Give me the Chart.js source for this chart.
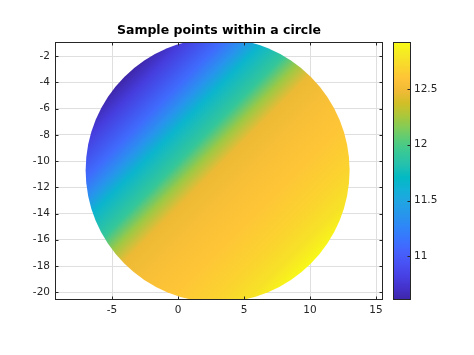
<!DOCTYPE html>
<html>
<head>
<meta charset="utf-8">
<script src="https://cdn.jsdelivr.net/npm/chart.js@4"></script>
<style>
  html, body { margin: 0; padding: 0; background: #fff; }
</style>
</head>
<body>
<canvas id="chart" width="474" height="355"></canvas>
<script>
// circle holding the sample points (data units)
const circleCenter = [3, -10.7];
const circleRadius = 10;

// value along the diameter from the top-left edge (0) to the bottom-right edge (1)
const profilePos = [0, 0.064, 0.166, 0.225, 0.279, 0.373, 0.432, 0.493, 0.627, 0.708, 0.842, 0.93, 1];
const profileValue = [10.61, 10.8, 11.1, 11.35, 11.65, 11.92, 12.22, 12.47, 12.56, 12.6, 12.68, 12.77, 12.9];

const xTicks = [-5, 0, 5, 10, 15];
const yTicks = [-20, -18, -16, -14, -12, -10, -8, -6, -4, -2];
const cbarTicks = [11, 11.5, 12, 12.5];
const cLimits = [10.61, 12.92];

// parula, every third entry of the 64-colour map
const colormap = ['#3e26a8', '#4432cb', '#4741e5', '#4852f4', '#4563fd', '#3875fe', '#2e87f7', '#2796eb',
  '#20a5e3', '#12b1d6', '#02bac3', '#24c1ae', '#37c897', '#57cc7a', '#81cc59', '#abc739',
  '#d1bf27', '#f0ba36', '#fec338', '#fad62d', '#f5e924', '#f9fb15'];

const font = { family: 'DejaVu Sans', size: 10.5 };
const axisColor = '#262626';
const gridColor = '#dfdfdf';

function hexRgb(h) {
  return [1, 3, 5].map(i => parseInt(h.substr(i, 2), 16));
}

function colorFor(v) {
  let f = (v - cLimits[0]) / (cLimits[1] - cLimits[0]);
  f = Math.min(1, Math.max(0, f)) * (colormap.length - 1);
  const i = Math.min(colormap.length - 2, Math.floor(f));
  const a = hexRgb(colormap[i]), b = hexRgb(colormap[i + 1]);
  const t = f - i;
  const c = a.map((x, k) => Math.round(x + (b[k] - x) * t));
  return 'rgb(' + c.join(',') + ')';
}

function fieldGradient(chart) {
  const xs = chart.scales.x, ys = chart.scales.y;
  const d = circleRadius / Math.SQRT2;
  const pts = [
    xs.getPixelForValue(circleCenter[0] - d), ys.getPixelForValue(circleCenter[1] + d),
    xs.getPixelForValue(circleCenter[0] + d), ys.getPixelForValue(circleCenter[1] - d)
  ];
  // scales are not laid out yet on the first pass
  if (!pts.every(Number.isFinite)) return 'transparent';
  const g = chart.ctx.createLinearGradient(pts[0], pts[1], pts[2], pts[3]);
  profilePos.forEach((p, i) => g.addColorStop(p, colorFor(profileValue[i])));
  return g;
}

function circleRadiusPx(chart) {
  const xs = chart.scales.x;
  const r = xs.getPixelForValue(circleCenter[0] + circleRadius) - xs.getPixelForValue(circleCenter[0]);
  return Number.isFinite(r) ? r : 0;
}

const setTicks = list => scale => { scale.ticks = list.map(v => ({ value: v })); };

const axesBox = {
  id: 'axesBox',
  afterDraw(chart) {
    const { ctx, chartArea: a, scales } = chart;
    const L = Math.round(a.left) + 0.5, R = Math.round(a.right) - 0.5;
    const T = Math.round(a.top) + 0.5, B = Math.round(a.bottom) - 0.5;
    ctx.save();
    ctx.strokeStyle = axisColor;
    ctx.lineWidth = 1;
    ctx.beginPath();
    xTicks.forEach(v => {
      const px = Math.round(scales.x.getPixelForValue(v)) + 0.5;
      ctx.moveTo(px, T); ctx.lineTo(px, T + 3);
      ctx.moveTo(px, B); ctx.lineTo(px, B - 3);
    });
    yTicks.forEach(v => {
      const py = Math.round(scales.y.getPixelForValue(v)) + 0.5;
      ctx.moveTo(L, py); ctx.lineTo(L + 3, py);
      ctx.moveTo(R, py); ctx.lineTo(R - 3, py);
    });
    ctx.stroke();
    ctx.strokeRect(L, T, R - L, B - T);

    // colorbar
    const cs = scales.c;
    const top = cs.getPixelForValue(cLimits[1]), bottom = cs.getPixelForValue(cLimits[0]);
    const cl = Math.round(a.right) + 10, cw = 18;
    const g = ctx.createLinearGradient(0, bottom, 0, top);
    colormap.forEach((c, i) => g.addColorStop(i / (colormap.length - 1), c));
    ctx.fillStyle = g;
    ctx.fillRect(cl, top, cw, bottom - top);
    ctx.strokeRect(cl + 0.5, Math.round(top) + 0.5, cw - 1, Math.round(bottom - top) - 1);
    ctx.beginPath();
    cbarTicks.forEach(v => {
      const py = Math.round(cs.getPixelForValue(v)) + 0.5;
      ctx.moveTo(cl + cw - 0.5, py); ctx.lineTo(cl + cw - 3.5, py);
    });
    ctx.stroke();
    ctx.restore();
  }
};

new Chart(document.getElementById('chart'), {
  type: 'scatter',
  data: {
    datasets: [{
      data: [{ x: circleCenter[0], y: circleCenter[1] }],
      pointRadius: ctx => circleRadiusPx(ctx.chart),
      pointHoverRadius: ctx => circleRadiusPx(ctx.chart),
      pointBorderWidth: 0,
      pointBackgroundColor: ctx => fieldGradient(ctx.chart),
      yAxisID: 'y'
    }]
  },
  options: {
    responsive: false,
    animation: false,
    events: [],
    layout: { padding: 0 },
    plugins: {
      legend: { display: false },
      tooltip: { enabled: false },
      title: {
        display: true,
        text: 'Sample points within a circle',
        color: '#000',
        fullSize: false,
        font: { family: 'DejaVu Sans', size: 12.5, weight: 'bold', lineHeight: 1.2 },
        padding: { top: 23.5, bottom: 3.5 }
      }
    },
    scales: {
      x: {
        type: 'linear',
        min: -9.32,
        max: 15.53,
        afterBuildTicks: setTicks(xTicks),
        afterFit: s => { s.height = 55; },
        grid: { color: gridColor, drawTicks: false },
        border: { display: false },
        ticks: { font, color: axisColor, padding: 4, maxRotation: 0, callback: v => String(v) }
      },
      y: {
        type: 'linear',
        position: 'left',
        min: -20.59,
        max: -0.93,
        afterBuildTicks: setTicks(yTicks),
        afterFit: s => { s.width = 55; },
        grid: { color: gridColor, drawTicks: false },
        border: { display: false },
        ticks: { font, color: axisColor, padding: 5, callback: v => String(v) }
      },
      c: {
        type: 'linear',
        position: 'right',
        min: cLimits[0],
        max: cLimits[1],
        afterBuildTicks: setTicks(cbarTicks),
        afterFit: s => { s.width = 91; },
        grid: { display: false, drawTicks: false },
        border: { display: false },
        ticks: { font, color: axisColor, padding: 31, callback: v => String(v) }
      }
    }
  },
  plugins: [axesBox]
});
</script>
</body>
</html>
